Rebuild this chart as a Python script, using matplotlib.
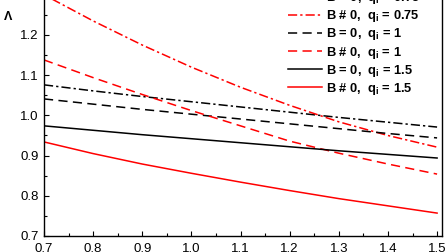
import matplotlib
matplotlib.use('Agg')
import matplotlib.pyplot as plt
from matplotlib.ticker import MultipleLocator

plt.rcParams['font.family'] = 'Liberation Sans'
plt.rcParams['mathtext.fontset'] = 'custom'
plt.rcParams['mathtext.bf'] = 'Liberation Sans:bold'
plt.rcParams['mathtext.rm'] = 'Liberation Sans'

x = [0.7, 0.8, 0.9, 1.0, 1.1, 1.2, 1.3, 1.4, 1.5]

b0_q075 = [1.076, 1.061, 1.047, 1.034, 1.021, 1.008, 0.995, 0.983, 0.971]
bn_q075 = [1.300, 1.235, 1.175, 1.120, 1.070, 1.025, 0.984, 0.950, 0.921]
b0_q1 = [1.041, 1.028, 1.015, 1.003, 0.991, 0.979, 0.967, 0.955, 0.944]
bn_q1 = [1.138, 1.094, 1.052, 1.012, 0.974, 0.936, 0.906, 0.879, 0.854]
b0_q15 = [0.974, 0.963, 0.952, 0.942, 0.932, 0.922, 0.912, 0.903, 0.894]
bn_q15 = [0.934, 0.905, 0.879, 0.856, 0.834, 0.813, 0.793, 0.775, 0.757]

labels = [r'B = 0,  q$_\mathbf{i}$ = 0.75', r'B # 0,  q$_\mathbf{i}$ = 0.75',
          r'B = 0,  q$_\mathbf{i}$ = 1', r'B # 0,  q$_\mathbf{i}$ = 1',
          r'B = 0,  q$_\mathbf{i}$ = 1.5', r'B # 0,  q$_\mathbf{i}$ = 1.5']

fig = plt.figure(figsize=(4.48, 2.52), dpi=100)
ax = fig.add_axes([44/448, 16/252, 398/448, 261.3/252])

dashdot = (0, (6, 2, 1.5, 2))
dashed = (0, (6, 3.5))
ax.plot(x, b0_q075, color='black', lw=1.1, ls=dashdot, label=labels[0])
ax.plot(x, bn_q075, color='red', lw=1.1, ls=dashdot, label=labels[1])
ax.plot(x, b0_q1, color='black', lw=1.1, ls=dashed, label=labels[2])
ax.plot(x, bn_q1, color='red', lw=1.1, ls=dashed, label=labels[3])
ax.plot(x, b0_q15, color='black', lw=1.1, label=labels[4])
ax.plot(x, bn_q15, color='red', lw=1.1, label=labels[5])

ax.set_xlim(0.7, 1.51)
ax.set_ylim(0.7, 1.35)
ax.xaxis.set_major_locator(MultipleLocator(0.1))
ax.xaxis.set_minor_locator(MultipleLocator(0.05))
ax.yaxis.set_major_locator(MultipleLocator(0.1))
ax.yaxis.set_minor_locator(MultipleLocator(0.05))
ax.tick_params(which='both', direction='in', labelsize=9.5)
ax.tick_params(which='major', length=3.5, width=0.8)
ax.tick_params(which='minor', length=2, width=0.8)
ax.tick_params(axis='x', pad=5)
ax.tick_params(axis='y', pad=4)
for s in ax.spines.values():
    s.set_linewidth(1)

fig.text(8/448, 1 - 16/252, r'$\mathbf{\Lambda}$', fontsize=9, ha='center', va='center')

leg = ax.legend(loc='upper left', bbox_to_anchor=(288/448, 1 + 10/252),
                bbox_transform=fig.transFigure, frameon=False,
                prop={'weight': 'bold', 'size': 9.3}, handlelength=2.6,
                handletextpad=0.35, labelspacing=0.17, borderpad=0, borderaxespad=0)

fig.savefig('out.png', dpi=100)
